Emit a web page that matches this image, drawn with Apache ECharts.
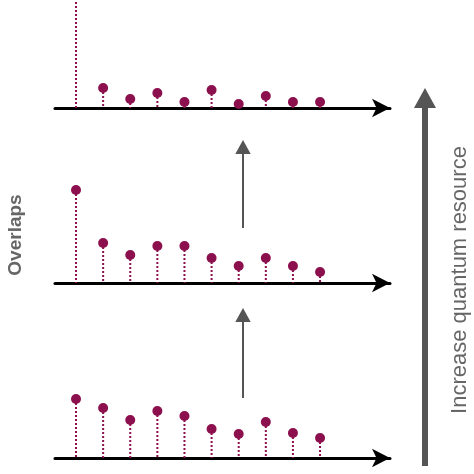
<!DOCTYPE html><html><head><meta charset="utf-8"><script src="https://cdn.jsdelivr.net/npm/echarts@6/dist/echarts.min.js"></script></head><body style="margin:0"><div id="c" style="width:474px;height:474px"></div><script>
const positions=[0,1,2,3,4,5,6,7,8,9];
const topVals=[130,20,9,15,6,18,4,12,6,6];
const midVals=[93,40,28,37,37,25,17,25,17,11];
const botVals=[59,50,38,47,42,29,24,36,25,20];
const COL='#8c0f4e';
const ch=echarts.init(document.getElementById('c'));
const grids=[{top:0,height:108},{top:175,height:108},{top:350,height:108}];
const sets=[topVals,midVals,botVals];
const series=[];
sets.forEach((v,i)=>{
 const d=positions.map((p,k)=>[p,v[k]]);
 series.push({type:'custom',xAxisIndex:i,yAxisIndex:i,clip:true,data:d,z:2,renderItem:(p,api)=>{
  const a=api.coord([api.value(0),Math.min(api.value(1),200)]),b=api.coord([api.value(0),0]);
  return {type:'line',shape:{x1:a[0],y1:a[1],x2:b[0],y2:b[1]},style:{stroke:COL,lineWidth:2,lineDash:[2,2]}};}});
 series.push({type:'scatter',xAxisIndex:i,yAxisIndex:i,data:d.filter(x=>x[1]<=108),symbolSize:10,itemStyle:{color:COL,opacity:1},z:3});
});
function arrow(x,y1,y2,w,head,col){return [
 {type:'line',shape:{x1:x,y1:y1,x2:x,y2:y2+head},style:{stroke:col,lineWidth:w}},
 {type:'polygon',shape:{points:[[x,y2],[x-head*0.55,y2+head],[x+head*0.55,y2+head]]},style:{fill:col}}];}
ch.setOption({
 grid:grids.map(g=>({left:55,width:335,top:g.top,height:g.height})),
 xAxis:grids.map((g,i)=>({type:'value',gridIndex:i,position:'bottom',min:-0.775,max:11.58,axisLine:{show:true,onZero:false,lineStyle:{color:'#000',width:3},symbol:['none','arrow'],symbolSize:[14,18]},axisTick:{show:false},axisLabel:{show:false},splitLine:{show:false}})),
 yAxis:grids.map((g,i)=>({type:'value',gridIndex:i,min:0,max:g.height,show:false})),
 series:series,
 graphic:[].concat(
  arrow(243,228,140,2,14,'#555'),
  arrow(243,398,308,2,14,'#555'),
  arrow(425,466,88,6,20,'#555'),
  [{type:'text',x:460,y:280,rotation:Math.PI/2,style:{text:'Increase quantum resource',fill:'#666',font:'22px Liberation Sans',align:'center',verticalAlign:'middle'}},
   {type:'text',x:16,y:235,rotation:Math.PI/2,style:{text:'Overlaps',fill:'#666',font:'bold 19px Liberation Sans',align:'center',verticalAlign:'middle'}}])
});
</script></body></html>
